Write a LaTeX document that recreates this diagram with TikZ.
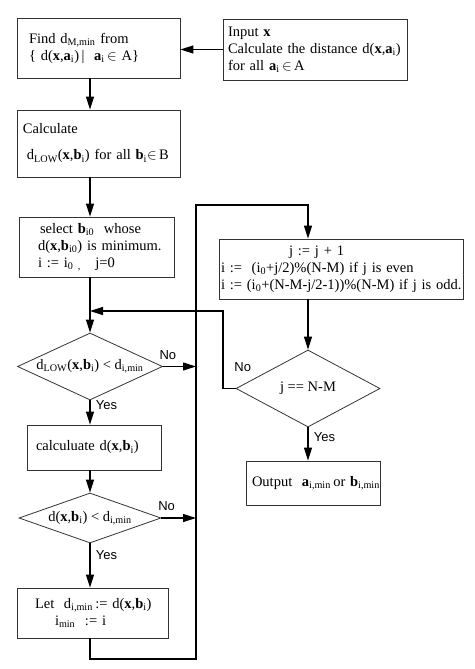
\documentclass[tikz,border=0pt]{standalone}
\usepackage{fontspec}
\setmainfont{Liberation Serif}
\newfontfamily\labelfont{Liberation Sans}
\usetikzlibrary{arrows.meta,shapes.geometric}
\newcommand{\sbs}[1]{\textsubscript{#1}}
\newcommand{\vb}[1]{\textbf{#1}}

\begin{document}
\begin{tikzpicture}[x=1pt, y=-1pt,
  box/.style={draw=black!80, line width=0.8pt, rectangle, align=left, font=\fontsize{14.5}{17}\selectfont,
    execute at begin node={\hyphenpenalty=10000\exhyphenpenalty=10000}},
  test/.style={draw=black!80, line width=0.8pt, diamond, inner sep=0pt, text height=9pt, text depth=3pt, align=center, font=\fontsize{14.5}{17}\selectfont},
  arr/.style={-{Triangle[length=13pt,width=8pt]}, line width=1.1pt},
  lbl/.style={font=\labelfont\fontsize{13}{15}\selectfont}]
\useasboundingbox (0,0) rectangle (474,669);
%%%%% Left column %%%%%
\node[box, minimum height=60pt, text width=139pt, inner xsep=12pt] (find) at (98.5,48) {Find d\sbs{M,min} from\\ \{ d(\vb{x},\vb{a}\sbs{i})\,|~~\vb{a}\sbs{i}\,$\in$~A\}};
\node[box, minimum height=67pt, text width=151pt, inner xsep=6pt] (calc) at (98.5,143.5) {Calculate\\[9pt]\hspace*{4pt}d\sbs{LOW}(\vb{x},\vb{b}\sbs{i})~for~all~\vb{b}\sbs{i}$\in$\,B};
\node[box, minimum height=60pt, text width=117pt, inner xsep=19pt] (select) at (96.5,247) {\hspace*{2pt}select~\vb{b}\sbs{i0}~~whose\\ d(\vb{x},\vb{b}\sbs{i0})~is~minimum.\\ i := i\sbs{0 ,}\quad j=0};
\node[test, aspect=2.4, minimum width=145pt, minimum height=67pt] (dlow) at (90,366.5) {d\sbs{LOW}(\vb{x},\vb{b}\sbs{i}) < d\sbs{i,min}};
\node[box, minimum height=45pt, text width=116pt, inner xsep=9pt] (calcd) at (94,447.5) {calculuate~d(\vb{x},\vb{b}\sbs{i})};
\node[test, aspect=3, minimum width=142pt, minimum height=50pt] (dxb) at (90,518) {d(\vb{x},\vb{b}\sbs{i}) < d\sbs{i,min}};
\node[box, minimum height=50pt, text width=115pt, inner xsep=18pt] (let) at (92.5,613) {Let~~d\sbs{i,min}\,:=~d(\vb{x},\vb{b}\sbs{i})\\ \hspace*{20pt}i\sbs{min}~~:=~i};
%%%%% Right column %%%%%
\node[box, minimum height=61pt, text width=174pt, inner xsep=5pt] (input) at (315,49.5) {Input \vb{x}\\ Calculate~the~distance~d(\vb{x},\vb{a}\sbs{i})\\ for all \vb{a}\sbs{i}\,$\in$\,A};
\node[box, minimum height=60pt, text width=240pt, inner xsep=2pt] (jbox) at (341,269) {\hspace*{68pt}j := j + 1\\ i :=~~(i\sbs{0}+j/2)\%(N-M)~if~j~is~even\\ i~:=~(i\sbs{0}+(N-M-j/2-1))\%(N-M)~if~j~is~odd.};
\node[test, aspect=2, minimum width=144pt, minimum height=77pt] (jeq) at (308,388.5) {j == N-M};
\node[box, minimum height=44pt, text width=122pt, inner xsep=6pt] (output) at (313,483) {Output~~\vb{a}\sbs{i,min}\,or~\vb{b}\sbs{i,min}};
%%%%% Corners %%%%%
\coordinate (spine) at (90,0);
\coordinate (loopbl) at (196,659);
\coordinate (looptl) at (196,205);
\coordinate (merge) at (223,311);
%%%%% Arrows %%%%%
\draw[arr] (input.west) -- (input.west -| find.east);
\draw[arr] (find.south -| spine) -- (calc.north -| spine);
\draw[arr] (calc.south -| spine) -- (select.north -| spine);
\draw[arr] (select.south -| spine) -- (dlow.north);
\draw[arr] (dlow.east) -- node[lbl, pos=0.15, above, yshift=3pt] (no1) {No} (dlow.east -| looptl);
\draw[arr] (dlow.south) -- node[lbl, pos=0.2, right=2pt] (yes1) {Yes} (calcd.north -| spine);
\draw[arr] (calcd.south -| spine) -- (dxb.north);
\draw[arr] (dxb.east) -- node[lbl, pos=0.15, above, yshift=3pt] (no2) {No} (dxb.east -| looptl);
\draw[arr] (dxb.south) -- node[lbl, pos=0.27, right=2pt] (yes2) {Yes} (let.north -| spine);
\draw[arr] (let.south -| spine) |- (loopbl) -- (looptl) -| (jbox.north -| jeq.north);
\draw[arr] (jbox.south -| jeq.north) -- (jeq.north);
\draw[arr] (jeq.west) node[lbl, anchor=south west, xshift=-5pt, yshift=13pt] (no3) {No} -| (merge) -- (merge -| spine);
\draw[arr] (jeq.south) -- node[lbl, pos=0.3, right=2pt] (yes3) {Yes} (output.north -| jeq.south);
\end{tikzpicture}
\end{document}
